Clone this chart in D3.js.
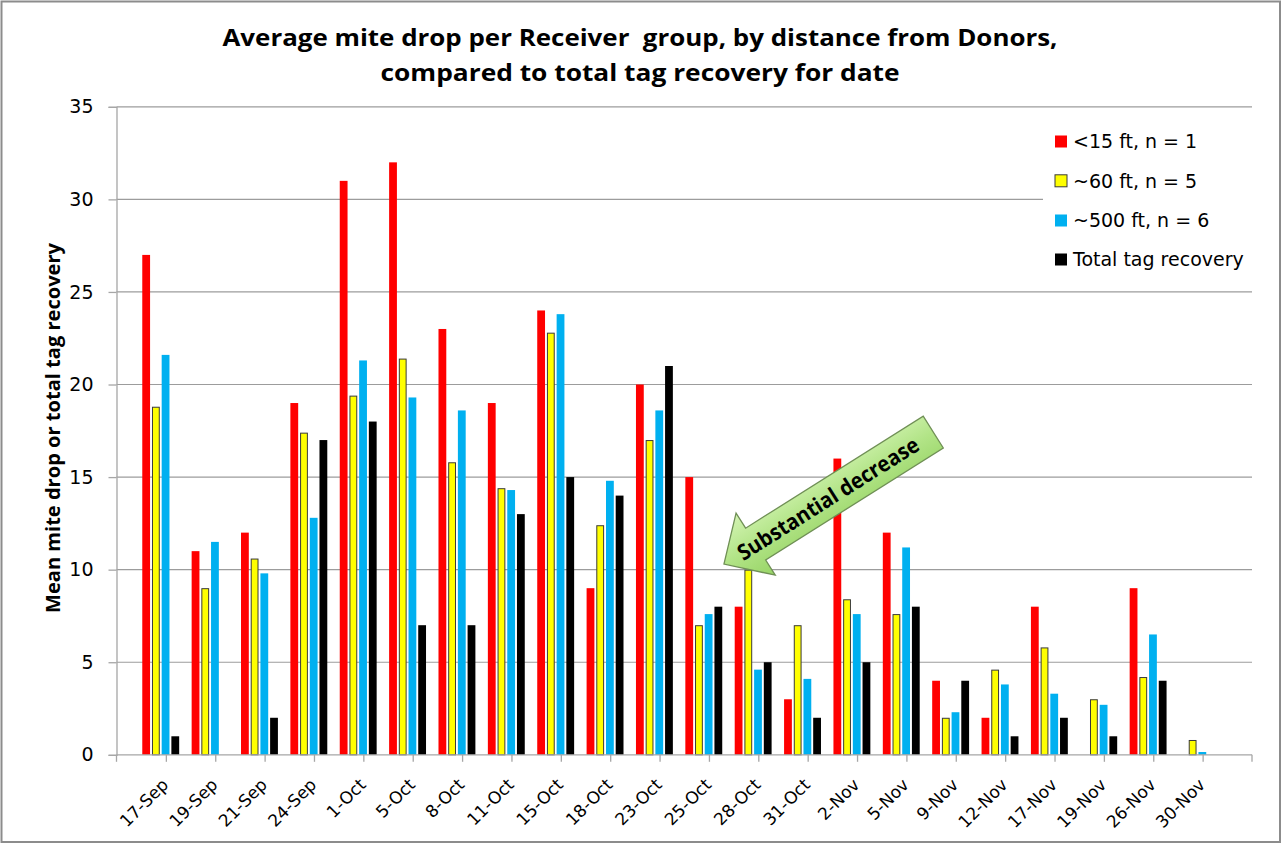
<!DOCTYPE html>
<html><head><meta charset="utf-8">
<script src="https://cdn.jsdelivr.net/npm/d3@7"></script>
<style>
html,body{margin:0;padding:0;background:#fff;}
svg{display:block;}
</style></head><body>
<svg id="chart" width="1286" height="846"></svg>
<script>
// ---------- data ----------
const dates = ["17-Sep","19-Sep","21-Sep","24-Sep","1-Oct","5-Oct","8-Oct","11-Oct","15-Oct","18-Oct","23-Oct","25-Oct","28-Oct","31-Oct","2-Nov","5-Nov","9-Nov","12-Nov","17-Nov","19-Nov","26-Nov","30-Nov"];
const seriesNames = ["<15 ft, n = 1", "~60 ft, n = 5", "~500 ft, n = 6", "Total tag recovery"];
const near15 = [27, 11, 12, 19, 31, 32, 23, 19, 24, 9, 20, 15, 8, 3, 16, 12, 4, 2, 8, 0, 9, 0];
const ft60   = [18.8, 9.0, 10.6, 17.4, 19.4, 21.4, 15.8, 14.4, 22.8, 12.4, 17.0, 7.0, 10.0, 7.0, 8.4, 7.6, 2.0, 4.6, 5.8, 3.0, 4.2, 0.8];
const ft500  = [21.6, 11.5, 9.8, 12.8, 21.3, 19.3, 18.6, 14.3, 23.8, 14.8, 18.6, 7.6, 4.6, 4.1, 7.6, 11.2, 2.3, 3.8, 3.3, 2.7, 6.5, 0.15];
const tagRecovery = [1, 0, 2, 17, 18, 7, 7, 13, 15, 14, 21, 8, 5, 2, 5, 8, 4, 1, 2, 1, 4, 0];
const yTicks = [0, 5, 10, 15, 20, 25, 30, 35];
const titleLines = ["Average mite drop per Receiver  group, by distance from Donors,", "compared to total tag recovery for date"];
const yTitle = "Mean mite drop or total tag recovery";
const noteText = "Substantial decrease";

// ---------- styles ----------
const seriesValues = [near15, ft60, ft500, tagRecovery];
const seriesColors = ["#ff0000", "#ffff00", "#00b0f0", "#000000"];
const seriesStroke = [null, "#3a3a3a", null, null];
const labelFont = "'DejaVu Sans', sans-serif";
const titleFont = "'Open Sans', sans-serif";

const plot = {left: 116.5, right: 1252, top: 106.8, bottom: 754.8};
const svg = d3.select("#chart");

// chart border
svg.append("rect").attr("x", 1.5).attr("y", 1.5).attr("width", 1278.5).attr("height", 840.5)
  .attr("fill", "#fff").attr("stroke", "#8c8c8c").attr("stroke-width", 2);

// scales
const y = d3.scaleLinear().domain([0, 35]).range([plot.bottom, plot.top]);
const step = (plot.right - plot.left) / 23;
const x = d3.scalePoint().domain(dates).range([plot.left + step, plot.right - step]);
// five slots per cluster (the fifth is empty), centred on the category tick
const xs = d3.scaleBand().domain(d3.range(5)).range([-0.478 * step, 0.466 * step]).paddingInner(0.196);

// gridlines
svg.append("g").selectAll("line").data(yTicks.filter(d => d > 0)).join("line")
  .attr("x1", plot.left).attr("x2", plot.right)
  .attr("y1", d => y(d)).attr("y2", d => y(d))
  .attr("stroke", "#9c9c9c").attr("stroke-width", 1.2);

// bars
seriesValues.forEach((vals, s) => {
  svg.append("g").selectAll("rect").data(vals.map((v, i) => ({d: dates[i], v})).filter(o => o.v > 0)).join("rect")
    .attr("x", o => x(o.d) + xs(s) + (seriesStroke[s] ? 0.5 : 0))
    .attr("width", xs.bandwidth() - (seriesStroke[s] ? 1 : 0))
    .attr("y", o => y(o.v) + (seriesStroke[s] ? 0.5 : 0))
    .attr("height", o => Math.max(0, y(0) - y(o.v) - (seriesStroke[s] ? 0.5 : 0)))
    .attr("fill", seriesColors[s])
    .attr("stroke", seriesStroke[s] || "none")
    .attr("stroke-width", 1);
});

// y axis
const yAxis = svg.append("g").attr("transform", `translate(${plot.left},0)`)
  .call(d3.axisLeft(y).tickValues(yTicks).tickSize(8).tickPadding(15));
yAxis.select(".domain").attr("stroke", "#a6a6a6").attr("stroke-width", 1.3);
yAxis.selectAll(".tick line").attr("stroke", "#a6a6a6").attr("stroke-width", 1.3);
yAxis.selectAll(".tick text").attr("font-family", labelFont).attr("font-size", 19).attr("fill", "#000");

// x axis
const xAxis = svg.append("g").attr("transform", `translate(0,${plot.bottom})`)
  .call(d3.axisBottom(x).tickSize(7).tickSizeOuter(0));
xAxis.select(".domain").remove();
xAxis.selectAll(".tick line").attr("stroke", "#a6a6a6").attr("stroke-width", 1.3);
xAxis.selectAll(".tick text")
  .attr("font-family", labelFont).attr("font-size", 17).attr("fill", "#000")
  .attr("x", 0).attr("y", 0).attr("dy", 0)
  .attr("text-anchor", "end")
  .attr("transform", "translate(3,31) rotate(-45)");
xAxis.append("line").attr("x1", plot.left).attr("x2", plot.right).attr("y1", 0).attr("y2", 0)
  .attr("stroke", "#a6a6a6").attr("stroke-width", 1.3);
xAxis.selectAll(".endtick").data([plot.left, plot.right]).join("line").attr("class", "endtick")
  .attr("x1", d => d).attr("x2", d => d).attr("y1", 0).attr("y2", 7)
  .attr("stroke", "#a6a6a6").attr("stroke-width", 1.3);

// title
const titleLens = [835, 519];
svg.append("g").selectAll("text").data(titleLines).join("text")
  .attr("x", 640).attr("y", (d, i) => 46 + i * 35)
  .attr("text-anchor", "middle")
  .style("white-space", "pre")
  .attr("font-family", titleFont).attr("font-weight", 700).attr("font-size", 24)
  .attr("textLength", (d, i) => titleLens[i]).attr("lengthAdjust", "spacingAndGlyphs")
  .attr("fill", "#000").text(d => d);

// y axis title
svg.append("text").attr("transform", "translate(60,428) rotate(-90)")
  .attr("text-anchor", "middle")
  .attr("font-family", titleFont).attr("font-weight", 700).attr("font-size", 20)
  .attr("textLength", 370).attr("lengthAdjust", "spacingAndGlyphs")
  .attr("fill", "#000").text(yTitle);

// legend
const legend = svg.append("g");
legend.append("rect").attr("x", 1043).attr("y", 115).attr("width", 220).attr("height", 168).attr("fill", "#fff");
const legendRows = [141.5, 180.8, 220.5, 259.5];
seriesNames.forEach((name, s) => {
  legend.append("rect").attr("x", 1055).attr("y", legendRows[s] - 6).attr("width", 12).attr("height", 12)
    .attr("fill", seriesColors[s]).attr("stroke", seriesStroke[s] || "none").attr("stroke-width", 1);
  legend.append("text").attr("x", 1073).attr("y", legendRows[s]).attr("dy", "0.36em")
    .attr("font-family", labelFont).attr("font-size", 19).attr("fill", "#000").text(name);
});

// annotation arrow
const defs = svg.append("defs");
const grad = defs.append("linearGradient").attr("id", "arrowGrad").attr("x1", 0).attr("y1", 0).attr("x2", 0).attr("y2", 1);
grad.append("stop").attr("offset", "0%").attr("stop-color", "#d4f4b4");
grad.append("stop").attr("offset", "50%").attr("stop-color", "#b2e487");
grad.append("stop").attr("offset", "100%").attr("stop-color", "#97d465");
const tip = [x(dates[11]) + 15, y(10.3)];
const ang = -32.25;
const arrow = svg.append("g").attr("transform", `translate(${tip[0]},${tip[1]}) rotate(${ang})`);
const L = 247.5, headL = 37.5, headW = 36.7, shaftW = 18.8;
arrow.append("path")
  .attr("d", `M0,0 L${headL},${-headW} L${headL},${-shaftW} L${L},${-shaftW} L${L},${shaftW} L${headL},${shaftW} L${headL},${headW} Z`)
  .attr("fill", "url(#arrowGrad)").attr("stroke", "#6f8f55").attr("stroke-width", 1.3).attr("stroke-linejoin", "miter");
arrow.append("text").attr("x", 123).attr("y", 0).attr("dy", "0.36em")
  .attr("text-anchor", "middle")
  .attr("font-family", titleFont).attr("font-weight", 700).attr("font-size", 22)
  .attr("textLength", 210).attr("lengthAdjust", "spacingAndGlyphs")
  .attr("fill", "#000").text(noteText);
</script>
</body></html>
